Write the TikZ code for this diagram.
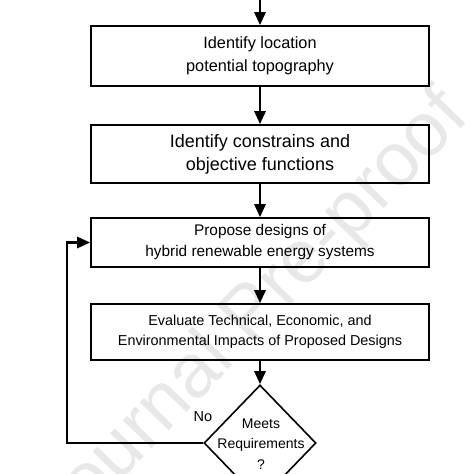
\documentclass[tikz,border=0pt]{standalone}
\usepackage{fontspec}
\setmainfont{Liberation Sans}
\usetikzlibrary{shapes.geometric,arrows.meta}
\tikzset{
  stepbox/.style={draw, line width=1.6bp, minimum width=338bp, inner sep=0pt, align=center},
  flowarrow/.style={line width=2.8bp, -{Triangle[length=13bp,width=11bp]}},
}
\begin{document}
\begin{tikzpicture}[x=1bp,y=1bp,yscale=-1]
\useasboundingbox (0,0) rectangle (474,474);

% Text Node (watermark)
\node [rotate=46, text=black!9, font=\fontsize{76bp}{76bp}\selectfont] (mark) at (253,316) {Journal Pre-proof};

%Shape: Rectangle
\node [stepbox, minimum height=60bp, font=\fontsize{16.3bp}{23bp}\selectfont] (location) at (260,56) {Identify location\\potential topography};
%Shape: Rectangle
\node [stepbox, minimum height=58bp, font=\fontsize{18bp}{23bp}\selectfont] (constraints) at (260,154) {Identify constrains and\\objective functions};
%Shape: Rectangle
\node [stepbox, minimum height=49bp, font=\fontsize{15.4bp}{21bp}\selectfont] (propose) at (260,242.5) {Propose designs of\\hybrid renewable energy systems};
%Shape: Rectangle
\node [stepbox, minimum height=56bp, font=\fontsize{14.4bp}{20bp}\selectfont] (evaluate) at (260,332) {Evaluate Technical, Economic, and\\Environmental Impacts of Proposed Designs};
%Shape: Diamond
\node [draw, diamond, line width=1.6bp, minimum width=112bp, minimum height=116bp, inner sep=0pt] (meets) at (260,443) {};

% Text Node
\node [align=center, font=\fontsize{14bp}{20.5bp}\selectfont] (meetstext) at (261,444) {Meets\\Requirements\\?};
% Text Node
\node [font=\fontsize{14.5bp}{17bp}\selectfont] (no) at (203,417) {No};

\coordinate (start) at (260,-4);
\coordinate (back) at (67,443);

%Straight Lines
\draw [flowarrow] (start) -- (location);
\draw [flowarrow] (location) -- (constraints);
\draw [flowarrow] (constraints) -- (propose);
\draw [flowarrow] (propose) -- (evaluate);
\draw [flowarrow] (evaluate) -- (meets);
\draw [flowarrow] (meets.west) -- (back) |- (propose.west);

\end{tikzpicture}
\end{document}
